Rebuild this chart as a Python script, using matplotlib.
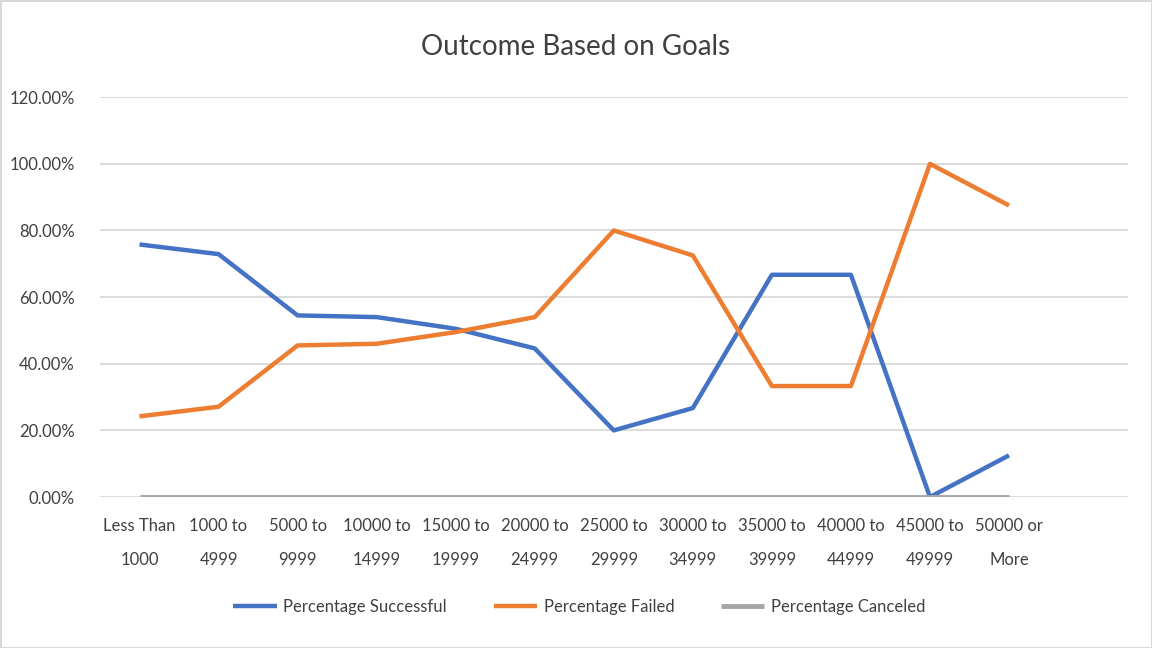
import matplotlib
matplotlib.use("Agg")
import matplotlib.pyplot as plt
import numpy as np

plt.rcParams['font.family'] = ['Lato', 'DejaVu Sans']

# goal ranges (the 13th slot is left empty, like the Excel axis)
categories = ['Less Than\n1000', '1000 to\n4999', '5000 to\n9999', '10000 to\n14999',
              '15000 to\n19999', '20000 to\n24999', '25000 to\n29999', '30000 to\n34999',
              '35000 to\n39999', '40000 to\n44999', '45000 to\n49999', '50000 or\nMore']
pct_successful = [75.8, 72.9, 54.5, 54.0, 50.5, 44.6, 20.0, 26.7, 66.7, 66.7, 0.0, 12.5]
pct_failed = [24.2, 27.1, 45.5, 46.0, 49.5, 54.0, 80.0, 72.5, 33.3, 33.3, 100.0, 87.5]
pct_canceled = [0, 0, 0, 0, 0, 0, 0, 0, 0, 0, 0, 0]

fig = plt.figure(figsize=(11.52, 6.48), dpi=100)
fig.patch.set_edgecolor('#d9d9d9')
fig.patch.set_linewidth(2)
ax = fig.add_axes([0.0868, 0.233, 0.892, 0.617])

x = np.arange(len(categories))
ax.plot(x, pct_successful, color='#4472c4', lw=3.2, label='Percentage Successful', solid_capstyle='butt')
ax.plot(x, pct_failed, color='#ed7d31', lw=3.2, label='Percentage Failed', solid_capstyle='butt')
ax.plot(x, pct_canceled, color='#a5a5a5', lw=3.5, label='Percentage Canceled', solid_capstyle='butt')

ax.set_xlim(-0.5, 12.5)
ax.set_ylim(0, 120)
ax.set_yticks(np.arange(0, 121, 20))
ax.set_yticklabels(['%.2f%%' % v for v in np.arange(0, 121, 20)])
ax.set_xticks(x)
ax.set_xticklabels(categories, linespacing=2.4)
ax.grid(axis='y', color='#d9d9d9', lw=1.3)
ax.set_axisbelow(True)
for s in ax.spines.values():
    s.set_visible(False)
ax.tick_params(axis='both', length=0, labelsize=12, colors='#404040')
ax.tick_params(axis='y', pad=18)
ax.tick_params(axis='x', pad=15)

fig.suptitle('Outcome Based on Goals', y=0.947, fontsize=20, color='#404040')
fig.legend(loc='center', bbox_to_anchor=(0.503, 0.063), ncol=3, frameon=False,
           fontsize=12, handlelength=2.6, columnspacing=2.8, handletextpad=0.4,
           labelcolor='#404040')

fig.savefig('out.png', dpi=100)
